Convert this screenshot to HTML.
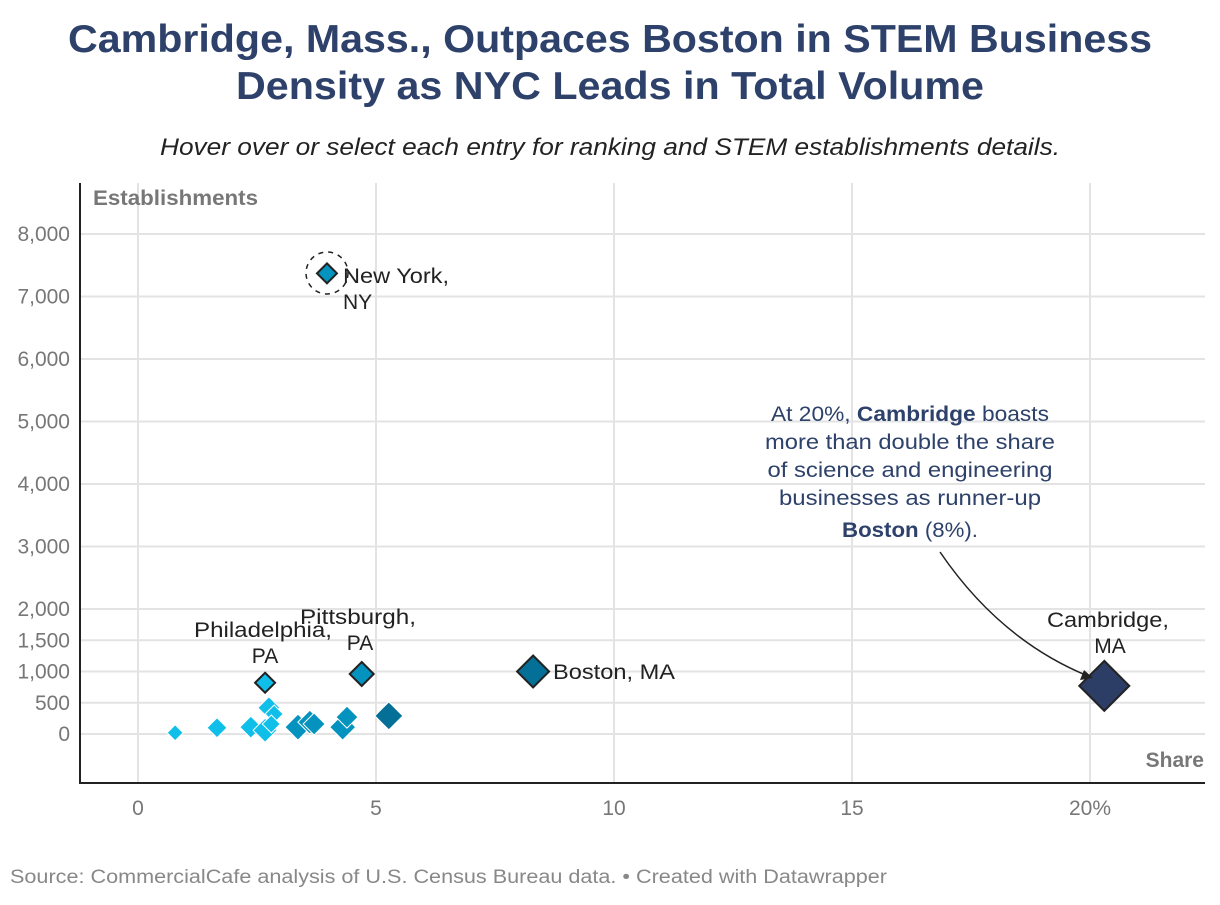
<!DOCTYPE html>
<html><head><meta charset="utf-8"><style>
body{margin:0;background:#fff;width:1220px;height:900px;overflow:hidden;font-family:"Liberation Sans",sans-serif}
</style></head><body>
<svg width="1220" height="900" font-family="Liberation Sans, sans-serif">
<text x="610" y="52" text-anchor="middle" font-size="39" font-weight="bold" fill="#2d416a" textLength="1084" lengthAdjust="spacingAndGlyphs">Cambridge, Mass., Outpaces Boston in STEM Business</text>
<text x="610" y="99" text-anchor="middle" font-size="39" font-weight="bold" fill="#2d416a" textLength="748" lengthAdjust="spacingAndGlyphs">Density as NYC Leads in Total Volume</text>
<text x="610" y="155" text-anchor="middle" font-size="24" font-style="italic" fill="#222" textLength="900" lengthAdjust="spacingAndGlyphs">Hover over or select each entry for ranking and STEM establishments details.</text>
<g id="grid"></g>
<line x1="80" y1="183" x2="80" y2="784" stroke="#222" stroke-width="2"/>
<line x1="79" y1="783" x2="1205" y2="783" stroke="#222" stroke-width="2"/>
<text x="93" y="205" font-size="21" font-weight="bold" fill="#777" textLength="165" lengthAdjust="spacingAndGlyphs">Establishments</text>
<text x="1204" y="767" text-anchor="end" font-size="21" font-weight="bold" fill="#777">Share</text>
<g id="marks"></g>
<circle cx="327" cy="273" r="21" fill="none" stroke="#222" stroke-width="1.5" stroke-dasharray="5,5"/>
<g font-size="21" fill="#222">
<text x="343" y="283" textLength="106" lengthAdjust="spacingAndGlyphs">New York,</text><text x="343" y="309">NY</text>
<text x="263" y="637" text-anchor="middle" textLength="138" lengthAdjust="spacingAndGlyphs">Philadelphia,</text><text x="265" y="663" text-anchor="middle">PA</text>
<text x="358" y="624" text-anchor="middle" textLength="116" lengthAdjust="spacingAndGlyphs">Pittsburgh,</text><text x="360" y="650" text-anchor="middle">PA</text>
<text x="553" y="679" textLength="122" lengthAdjust="spacingAndGlyphs">Boston, MA</text>
<text x="1108" y="627" text-anchor="middle" textLength="122" lengthAdjust="spacingAndGlyphs">Cambridge,</text><text x="1110" y="653" text-anchor="middle">MA</text>
</g>
<g font-size="21" fill="#2d416a" text-anchor="middle">
<text x="910" y="421" textLength="278" lengthAdjust="spacingAndGlyphs">At 20%, <tspan font-weight="bold">Cambridge</tspan> boasts</text>
<text x="910" y="449" textLength="290" lengthAdjust="spacingAndGlyphs">more than double the share</text>
<text x="910" y="477" textLength="285" lengthAdjust="spacingAndGlyphs">of science and engineering</text>
<text x="910" y="505" textLength="262" lengthAdjust="spacingAndGlyphs">businesses as runner-up</text>
<text x="910" y="537" textLength="136" lengthAdjust="spacingAndGlyphs"><tspan font-weight="bold">Boston</tspan> (8%).</text>
</g>
<path d="M940,552 Q1000,640 1088,676" fill="none" stroke="#222" stroke-width="1.5"/>
<path d="M1093,678 L1080,680 L1084,670 Z" fill="#222"/>
<text x="10" y="883" font-size="19" fill="#888" textLength="877" lengthAdjust="spacingAndGlyphs">Source: CommercialCafe analysis of U.S. Census Bureau data. • Created with Datawrapper</text>
</svg>
<script>
const xTicks=[0,5,10,15,20];
const xTickLabels=["0","5","10","15","20%"];
const yTicks=[0,500,1000,1500,2000,3000,4000,5000,6000,7000,8000];
const yTickLabels=["0","500","1,000","1,500","2,000","3,000","4,000","5,000","6,000","7,000","8,000"];
const shares=[0.78,1.66,2.37,2.67,2.75,2.86,2.8,3.36,3.61,3.7,4.3,4.39,5.27,2.67,4.7,8.3,3.97,20.3];
const establishments=[20,100,110,60,420,320,160,110,190,160,110,270,290,820,960,1000,7370,770];
const sizes=[8,10,11,12,11,9,9,13,12,11,13,11,14,10,12,16,10,25];
const outlined=[0,0,0,0,0,0,0,0,0,0,0,0,0,1,1,1,1,1];
const svgNS="http://www.w3.org/2000/svg";
const X=v=>138+v*47.6;
const Y=v=>734-v*0.0625;
function color(s){if(s>15)return"#2c3e66";if(s>5)return"#046f97";if(s>3.2)return"#0393be";return"#0fbfe9";}
const grid=document.getElementById('grid');
xTicks.forEach((t,i)=>{
 const l=document.createElementNS(svgNS,'line');
 l.setAttribute('x1',X(t));l.setAttribute('x2',X(t));l.setAttribute('y1',183);l.setAttribute('y2',783);
 l.setAttribute('stroke','#e3e3e3');l.setAttribute('stroke-width','2');
 
 
 grid.appendChild(l);
 const tx=document.createElementNS(svgNS,'text');
 tx.setAttribute('x',X(t));tx.setAttribute('y',815);tx.setAttribute('text-anchor','middle');
 tx.setAttribute('font-size','21');tx.setAttribute('fill','#777');tx.textContent=xTickLabels[i];
 
 
 grid.appendChild(tx);
});
yTicks.forEach((t,i)=>{
 const l=document.createElementNS(svgNS,'line');
 l.setAttribute('x1',80);l.setAttribute('x2',1205);l.setAttribute('y1',Y(t));l.setAttribute('y2',Y(t));
 l.setAttribute('stroke','#e3e3e3');l.setAttribute('stroke-width','2');
 
 
 grid.appendChild(l);
 const tx=document.createElementNS(svgNS,'text');
 tx.setAttribute('x',70);tx.setAttribute('y',Y(t)+7);tx.setAttribute('text-anchor','end');
 tx.setAttribute('font-size','21');tx.setAttribute('fill','#777');tx.textContent=yTickLabels[i];
 
 
 grid.appendChild(tx);
});
const marks=document.getElementById('marks');
shares.forEach((s,i)=>{
 const cx=X(s),cy=Y(establishments[i]),r=sizes[i];
 const p=document.createElementNS(svgNS,'path');
 p.setAttribute('d',`M${cx},${cy-r}L${cx+r},${cy}L${cx},${cy+r}L${cx-r},${cy}Z`);
 p.setAttribute('fill',color(s));
 p.setAttribute('stroke',outlined[i]?'#222':'#fff');
 p.setAttribute('stroke-width',outlined[i]?'2':'1');
 
 
 marks.appendChild(p);
});
</script>
</body></html>
